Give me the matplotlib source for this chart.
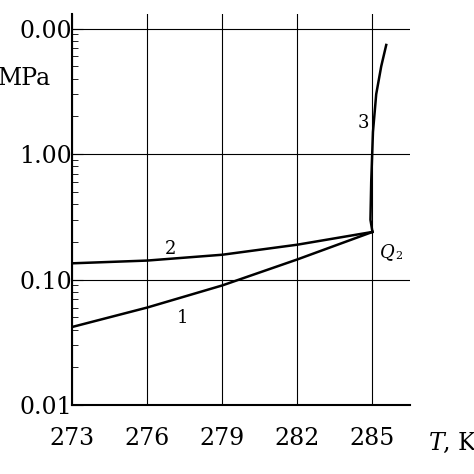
import matplotlib
matplotlib.use("Agg")
import matplotlib.pyplot as plt
from matplotlib.ticker import FixedLocator, NullFormatter

c1_T = [273, 276, 279, 282, 285]
c1_P = [0.042, 0.06, 0.09, 0.145, 0.24]
c2_T = [273, 276, 279, 282, 285]
c2_P = [0.135, 0.142, 0.158, 0.19, 0.24]
c3_T = [285.0, 284.92, 284.95, 285.02, 285.15, 285.35, 285.55]
c3_P = [0.24, 0.3, 0.6, 1.5, 3.0, 5.0, 7.4]
xticks = [273, 276, 279, 282, 285]
yticks = [0.01, 0.1, 1.0, 10.0]
ylabels = ["0.01", "0.10", "1.00", "0.00"]

plt.rcParams['font.family'] = 'DejaVu Serif'
fig = plt.figure(figsize=(4.74, 4.74), dpi=100)
ax = fig.add_axes([0.152, 0.145, 0.713, 0.825])
ax.set_yscale('log')
ax.set_xlim(273, 286.5)
ax.set_ylim(0.01, 13)
ax.set_xticks(xticks)
ax.set_xticklabels([str(t) for t in xticks], fontsize=17)
ax.set_yticks(yticks)
ax.set_yticklabels(ylabels, fontsize=17)
ax.yaxis.set_minor_locator(FixedLocator([m * 10**e for e in (-2, -1, 0, 1) for m in range(2, 10)]))
ax.yaxis.set_minor_formatter(NullFormatter())
ax.tick_params(axis='y', which='major', length=8, direction='in', pad=0)
ax.tick_params(axis='y', which='minor', length=4, direction='in')
ax.tick_params(axis='x', length=0, pad=16)
ax.grid(True, color='black', linewidth=0.8)
for s in ['top', 'right']:
    ax.spines[s].set_visible(False)
ax.spines['left'].set_linewidth(1.5)
ax.spines['bottom'].set_linewidth(1.5)

ax.plot(c1_T, c1_P, color='black', lw=1.8)
ax.plot(c2_T, c2_P, color='black', lw=1.8)
ax.plot(c3_T, c3_P, color='black', lw=1.8)

ax.text(277.2, 0.045, "1", fontsize=13)
ax.text(276.7, 0.16, "2", fontsize=13)
ax.text(284.4, 1.6, "3", fontsize=13)
ax.text(285.3, 0.15, "Q", fontsize=13, style='italic')
ax.text(285.9, 0.145, "2", fontsize=8)
fig.text(0.905, 0.05, "T", fontsize=17, style='italic')
fig.text(0.935, 0.05, ", K", fontsize=17)
fig.text(-0.005, 0.82, "MPa", fontsize=17)
fig.savefig("out.png", dpi=100)
